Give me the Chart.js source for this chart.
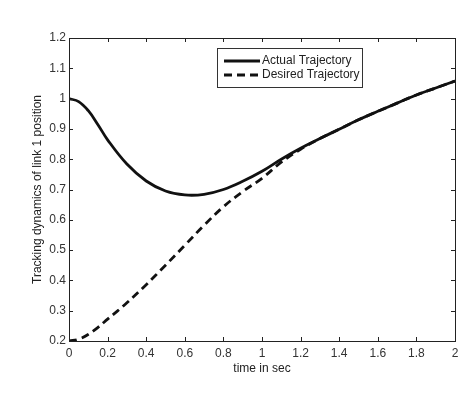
<!DOCTYPE html>
<html>
<head>
<meta charset="utf-8">
<title>Tracking dynamics of link 1 position</title>
<script src="https://cdn.jsdelivr.net/npm/chart.js@4.4.1/dist/chart.umd.min.js"></script>
<style>
  html, body { margin: 0; padding: 0; background: #fff; }
  canvas { display: block; }
</style>
</head>
<body>
<canvas id="track-chart" width="474" height="399"></canvas>
<script>
'use strict';

// values
const timeSec = [0, 0.05, 0.1, 0.15, 0.2, 0.3, 0.4, 0.5, 0.6, 0.7, 0.8, 0.9, 1.0,
  1.1, 1.2, 1.3, 1.4, 1.5, 1.6, 1.7, 1.8, 1.9, 2.0];
const actualPos = [1.0, 0.99, 0.96, 0.914, 0.864, 0.784, 0.728, 0.695, 0.682, 0.684, 0.700, 0.727, 0.760,
  0.800, 0.836, 0.868, 0.899, 0.930, 0.958, 0.985, 1.012, 1.035, 1.058];
const desiredPos = [0.2, 0.206, 0.222, 0.245, 0.272, 0.326, 0.386, 0.450, 0.516, 0.582, 0.643, 0.693, 0.737,
  0.790, 0.833, 0.868, 0.899, 0.930, 0.958, 0.985, 1.012, 1.035, 1.058];
const xTicks = [0, 0.2, 0.4, 0.6, 0.8, 1, 1.2, 1.4, 1.6, 1.8, 2];
const yTicks = [0.2, 0.3, 0.4, 0.5, 0.6, 0.7, 0.8, 0.9, 1, 1.1, 1.2];

const FONT = "'Liberation Sans', Arial, sans-serif";
const INK = '#111';

function toPoints(xs, ys) {
  return xs.map((x, i) => ({ x, y: ys[i] }));
}

// MATLAB style box, inward ticks and legend
const matlabFrame = {
  id: 'matlabFrame',
  afterDatasetsDraw(chart) {
    const { ctx, chartArea: a, scales: { x, y } } = chart;
    ctx.save();
    ctx.strokeStyle = '#222';
    ctx.lineWidth = 1;
    ctx.strokeRect(a.left + 0.5, a.top + 0.5, a.right - a.left, a.bottom - a.top);

    const tl = 4;
    ctx.beginPath();
    for (const v of xTicks) {
      const px = Math.round(x.getPixelForValue(v)) + 0.5;
      ctx.moveTo(px, a.bottom); ctx.lineTo(px, a.bottom - tl);
      ctx.moveTo(px, a.top); ctx.lineTo(px, a.top + tl);
    }
    for (const v of yTicks) {
      const py = Math.round(y.getPixelForValue(v)) + 0.5;
      ctx.moveTo(a.left, py); ctx.lineTo(a.left + tl, py);
      ctx.moveTo(a.right, py); ctx.lineTo(a.right - tl, py);
    }
    ctx.stroke();

    // legend box
    const bx = 217, by = 48, bw = 145, bh = 39;
    ctx.fillStyle = '#fff';
    ctx.fillRect(bx, by, bw, bh);
    ctx.strokeStyle = '#333';
    ctx.strokeRect(bx + 0.5, by + 0.5, bw, bh);
    ctx.font = '12px ' + FONT;
    ctx.textBaseline = 'middle';
    chart.data.datasets.forEach((ds, i) => {
      const ly = by + 13 + i * 14;
      ctx.beginPath();
      ctx.strokeStyle = ds.borderColor;
      ctx.lineWidth = ds.borderWidth;
      ctx.setLineDash(ds.borderDash || []);
      ctx.moveTo(bx + 7, ly);
      ctx.lineTo(bx + 43, ly);
      ctx.stroke();
      ctx.setLineDash([]);
      ctx.fillStyle = '#222';
      ctx.fillText(ds.label, bx + 45, ly);
    });
    ctx.restore();
  }
};

const tickFont = { family: FONT, size: 12 };
const fmt = v => String(Number(v.toFixed(2)));

const ctx = document.getElementById('track-chart').getContext('2d');
new Chart(ctx, {
  type: 'line',
  data: {
    datasets: [
      {
        label: 'Actual Trajectory',
        data: toPoints(timeSec, actualPos),
        borderColor: INK,
        borderWidth: 2.8,
        pointRadius: 0,
        tension: 0.4,
      },
      {
        label: 'Desired Trajectory',
        data: toPoints(timeSec, desiredPos),
        borderColor: INK,
        borderWidth: 2.8,
        borderDash: [8, 5],
        pointRadius: 0,
        tension: 0.4,
      },
    ],
  },
  options: {
    responsive: false,
    animation: false,
    devicePixelRatio: 1,
    layout: { padding: { left: 0, top: 38, right: 19, bottom: 0 } },
    plugins: { legend: { display: false }, tooltip: { enabled: false } },
    scales: {
      x: {
        type: 'linear',
        min: 0,
        max: 2,
        afterFit: s => { s.height = 58; },
        afterBuildTicks: s => { s.ticks = xTicks.map(value => ({ value })); },
        grid: { display: false, drawTicks: false },
        border: { display: false },
        ticks: { color: '#333', padding: 5, maxRotation: 0, font: tickFont, callback: fmt },
        title: {
          display: true,
          text: 'time in sec',
          color: '#222',
          padding: { top: 0, bottom: 23 },
          font: { family: FONT, size: 12 },
        },
      },
      y: {
        min: 0.2,
        max: 1.2,
        afterFit: s => { s.width = 69; },
        afterBuildTicks: s => { s.ticks = yTicks.map(value => ({ value })); },
        grid: { display: false, drawTicks: false },
        border: { display: false },
        ticks: { color: '#333', padding: 3, font: tickFont, callback: fmt },
        title: {
          display: true,
          text: 'Tracking dynamics of link 1 position',
          color: '#222',
          padding: { top: 30, bottom: 0 },
          font: { family: FONT, size: 12 },
        },
      },
    },
  },
  plugins: [matlabFrame],
});
</script>
</body>
</html>
